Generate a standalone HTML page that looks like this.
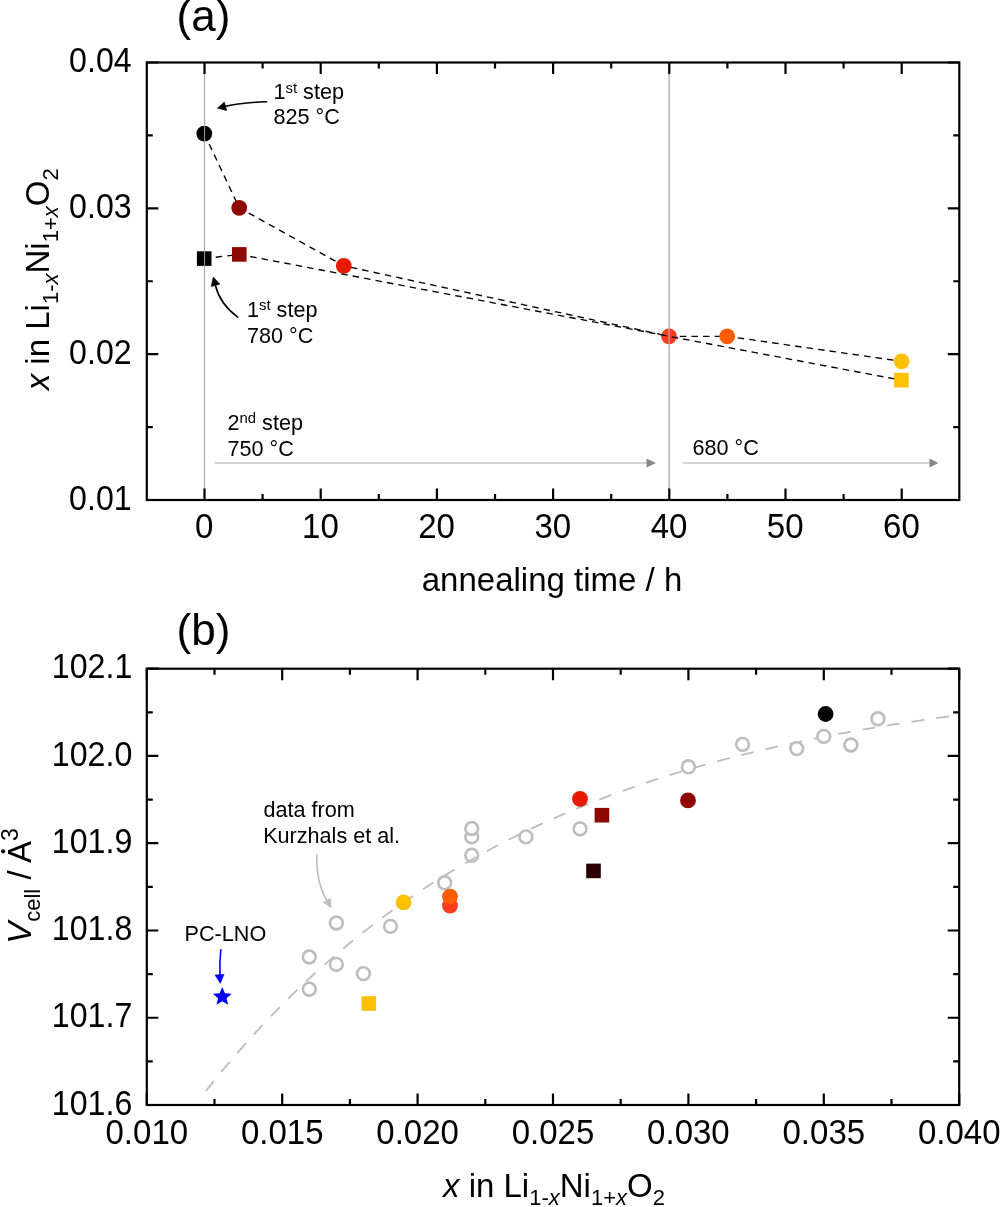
<!DOCTYPE html>
<html><head><meta charset="utf-8"><style>
html,body{margin:0;padding:0;background:#fff;overflow:hidden;}
svg{display:block;will-change:transform;}
text{font-family:"Liberation Sans", sans-serif;fill:#000;}
</style></head><body>
<svg width="1000" height="1207" viewBox="0 0 1000 1207">
<g id="a">
<polyline points="204.30,133.60 239.20,207.80 343.80,265.80 669.00,336.30 727.20,336.30 901.60,361.30" fill="none" stroke="#000" stroke-width="1.35" stroke-dasharray="6.5 5.1"/>
<circle cx="204.30" cy="133.60" r="7.9" fill="#000000"/>
<circle cx="239.20" cy="207.80" r="7.9" fill="#8c0800"/>
<circle cx="343.80" cy="265.80" r="7.9" fill="#e61a00"/>
<circle cx="669.00" cy="336.30" r="7.9" fill="#ff3c1e"/>
<circle cx="727.20" cy="336.30" r="7.9" fill="#ff5c00"/>
<circle cx="901.60" cy="361.30" r="7.9" fill="#ffc000"/>
<polyline points="204.20,258.60 239.30,254.40 669.00,336.30 901.40,380.20" fill="none" stroke="#000" stroke-width="1.35" stroke-dasharray="6.5 5.1"/>
<rect x="196.90" y="251.30" width="14.6" height="14.6" fill="#000000"/>
<rect x="232.00" y="247.10" width="14.6" height="14.6" fill="#8c0800"/>
<rect x="894.10" y="372.90" width="14.6" height="14.6" fill="#ffc000"/>
<line x1="204.6" y1="62.50" x2="204.6" y2="500.00" stroke="#a0a0a0" stroke-width="1.0"/>
<line x1="669.1" y1="62.50" x2="669.1" y2="500.00" stroke="#a8a8a8" stroke-width="1.25"/>
<path d="M215 463H647" stroke="#a8a8a8" stroke-width="1.15"/>
<path d="M656 463L646.5 458.5V467.5Z" fill="#888"/>
<path d="M682.5 463H930" stroke="#a8a8a8" stroke-width="1.15"/>
<path d="M938.5 463L929.5 458.5V467.5Z" fill="#888"/>
<path d="M266.6 101.8Q240 102.5 223.5 106.8" stroke="#000" stroke-width="1.6" fill="none" stroke-linecap="round"/>
<path d="M217.4 108.2L224.3 102.1L226.7 110.5Z" fill="#000" stroke="#000" stroke-width="0.6" stroke-linejoin="round"/>
<path d="M237.7 317.1Q220 304 215.6 286" stroke="#000" stroke-width="1.6" fill="none" stroke-linecap="round"/>
<path d="M213.3 277L211.2 286.5L219.9 284.2Z" fill="#000" stroke="#000" stroke-width="0.6" stroke-linejoin="round"/>
</g>
<path d="M204.50 500.00V488.50M204.50 62.50V74.00M320.70 500.00V488.50M320.70 62.50V74.00M436.90 500.00V488.50M436.90 62.50V74.00M553.10 500.00V488.50M553.10 62.50V74.00M669.30 500.00V488.50M669.30 62.50V74.00M785.50 500.00V488.50M785.50 62.50V74.00M901.70 500.00V488.50M901.70 62.50V74.00M262.60 500.00V494.00M262.60 62.50V68.50M378.80 500.00V494.00M378.80 62.50V68.50M495.00 500.00V494.00M495.00 62.50V68.50M611.20 500.00V494.00M611.20 62.50V68.50M727.40 500.00V494.00M727.40 62.50V68.50M843.60 500.00V494.00M843.60 62.50V68.50M146.80 500.00H158.30M959.30 500.00H947.80M146.80 354.17H158.30M959.30 354.17H947.80M146.80 208.33H158.30M959.30 208.33H947.80M146.80 62.50H158.30M959.30 62.50H947.80M146.80 427.08H152.80M959.30 427.08H953.30M146.80 281.25H152.80M959.30 281.25H953.30M146.80 135.42H152.80M959.30 135.42H953.30" stroke="#000" stroke-width="2.2" fill="none"/>
<rect x="146.80" y="62.50" width="812.50" height="437.50" stroke="#000" stroke-width="2.2" fill="none"/>
<text transform="translate(131.70 509.70) scale(0.975 1.05)" font-size="33" text-anchor="end" >0.01</text>
<text transform="translate(131.70 363.87) scale(0.975 1.05)" font-size="33" text-anchor="end" >0.02</text>
<text transform="translate(131.70 218.03) scale(0.975 1.05)" font-size="33" text-anchor="end" >0.03</text>
<text transform="translate(131.70 72.20) scale(0.975 1.05)" font-size="33" text-anchor="end" >0.04</text>
<text transform="translate(204.20 538.20) scale(1 1.06)" font-size="33" text-anchor="middle" >0</text>
<text transform="translate(320.40 538.20) scale(1 1.06)" font-size="33" text-anchor="middle" >10</text>
<text transform="translate(436.60 538.20) scale(1 1.06)" font-size="33" text-anchor="middle" >20</text>
<text transform="translate(552.80 538.20) scale(1 1.06)" font-size="33" text-anchor="middle" >30</text>
<text transform="translate(669.00 538.20) scale(1 1.06)" font-size="33" text-anchor="middle" >40</text>
<text transform="translate(785.20 538.20) scale(1 1.06)" font-size="33" text-anchor="middle" >50</text>
<text transform="translate(901.40 538.20) scale(1 1.06)" font-size="33" text-anchor="middle" >60</text>
<text x="552.00" y="591.00" font-size="33" text-anchor="middle" >annealing time / h</text>
<text x="203.50" y="31.40" font-size="44" text-anchor="middle" >(a)</text>
<text transform="translate(49.2 390.3) rotate(-90)" font-size="33"><tspan font-style="italic">x</tspan> in Li<tspan font-size="22" dy="8.6">1-<tspan font-style="italic">x</tspan></tspan><tspan dy="-8.6">Ni</tspan><tspan font-size="22" dy="8.6">1+<tspan font-style="italic">x</tspan></tspan><tspan dy="-8.6">O</tspan><tspan font-size="22" dy="8.6">2</tspan></text>
<text x="273.5" y="99.1" font-size="21.6">1<tspan font-size="14.9" dy="-6.6">st</tspan><tspan dy="6.6"> step</tspan></text>
<text x="273.5" y="124.3" font-size="21.6">825 °C</text>
<text x="247" y="316.8" font-size="21.6">1<tspan font-size="14.9" dy="-6.6">st</tspan><tspan dy="6.6"> step</tspan></text>
<text x="247" y="342.6" font-size="21.6">780 °C</text>
<text x="227.5" y="429.9" font-size="21.6">2<tspan font-size="14.9" dy="-6.6">nd</tspan><tspan dy="6.6"> step</tspan></text>
<text x="227.5" y="455.7" font-size="21.6">750 °C</text>
<text x="692.5" y="455.4" font-size="21.6">680 °C</text>
<g id="b">
<circle cx="471.76" cy="855.3" r="6.4" fill="none" stroke="#bdbdbd" stroke-width="2.6"/>
<path d="M203.99 1093.39 L210.34 1085.37 L216.69 1077.52 L223.03 1069.81 L229.38 1062.24 L235.72 1054.82 L242.07 1047.55 L248.42 1040.41 L254.76 1033.40 L261.11 1026.53 L267.46 1019.80 L273.80 1013.18 L280.15 1006.70 L286.49 1000.34 L292.84 994.10 L299.19 987.97 L305.53 981.97 L311.88 976.08 L318.23 970.30 L324.57 964.63 L330.92 959.07 L337.26 953.61 L343.61 948.26 L349.96 943.01 L356.30 937.86 L362.65 932.81 L369.00 927.85 L375.34 922.99 L381.69 918.22 L388.04 913.54 L394.38 908.95 L400.73 904.45 L407.07 900.03 L413.42 895.70 L419.77 891.45 L426.11 887.28 L432.46 883.19 L438.81 879.18 L445.15 875.24 L451.50 871.38 L457.84 867.59 L464.19 863.88 L470.54 860.23 L476.88 856.66 L483.23 853.15 L489.58 849.71 L495.92 846.33 L502.27 843.02 L508.61 839.78 L514.96 836.59 L521.31 833.46 L527.65 830.40 L534.00 827.39 L540.35 824.44 L546.69 821.55 L553.04 818.71 L559.38 815.92 L565.73 813.19 L572.08 810.51 L578.42 807.88 L584.77 805.30 L591.12 802.77 L597.46 800.29 L603.81 797.85 L610.15 795.46 L616.50 793.12 L622.85 790.82 L629.19 788.57 L635.54 786.36 L641.89 784.19 L648.23 782.06 L654.58 779.97 L660.92 777.92 L667.27 775.91 L673.62 773.94 L679.96 772.01 L686.31 770.11 L692.66 768.25 L699.00 766.42 L705.35 764.63 L711.70 762.88 L718.04 761.15 L724.39 759.46 L730.73 757.81 L737.08 756.18 L743.43 754.58 L749.77 753.02 L756.12 751.48 L762.47 749.98 L768.81 748.50 L775.16 747.05 L781.50 745.63 L787.85 744.23 L794.20 742.86 L800.54 741.52 L806.89 740.21 L813.24 738.91 L819.58 737.65 L825.93 736.40 L832.27 735.18 L838.62 733.99 L844.97 732.81 L851.31 731.66 L857.66 730.53 L864.01 729.43 L870.35 728.34 L876.70 727.27 L883.04 726.23 L889.39 725.20 L895.74 724.20 L902.08 723.21 L908.43 722.24 L914.78 721.29 L921.12 720.36 L927.47 719.44 L933.81 718.55 L940.16 717.67 L946.51 716.81 L952.85 715.96 L959.20 715.13" fill="none" stroke="#bdbdbd" stroke-width="1.8" stroke-dasharray="12.8 12" stroke-dashoffset="-3"/>
<circle cx="309.28" cy="957" r="6.4" fill="#fff" stroke="#bdbdbd" stroke-width="2.6"/>
<circle cx="309.28" cy="989.2" r="6.4" fill="#fff" stroke="#bdbdbd" stroke-width="2.6"/>
<circle cx="336.36" cy="923" r="6.4" fill="#fff" stroke="#bdbdbd" stroke-width="2.6"/>
<circle cx="336.36" cy="964.4" r="6.4" fill="#fff" stroke="#bdbdbd" stroke-width="2.6"/>
<circle cx="363.44" cy="973.6" r="6.4" fill="#fff" stroke="#bdbdbd" stroke-width="2.6"/>
<circle cx="390.52" cy="926.4" r="6.4" fill="#fff" stroke="#bdbdbd" stroke-width="2.6"/>
<circle cx="444.68" cy="882.8" r="6.4" fill="#fff" stroke="#bdbdbd" stroke-width="2.6"/>
<circle cx="471.76" cy="836.9" r="6.4" fill="#fff" stroke="#bdbdbd" stroke-width="2.6"/>
<circle cx="471.76" cy="828.5" r="6.4" fill="#fff" stroke="#bdbdbd" stroke-width="2.6"/>
<circle cx="525.92" cy="836.9" r="6.4" fill="#fff" stroke="#bdbdbd" stroke-width="2.6"/>
<circle cx="580.08" cy="828.9" r="6.4" fill="#fff" stroke="#bdbdbd" stroke-width="2.6"/>
<circle cx="688.40" cy="766.8" r="6.4" fill="#fff" stroke="#bdbdbd" stroke-width="2.6"/>
<circle cx="742.56" cy="744.4" r="6.4" fill="#fff" stroke="#bdbdbd" stroke-width="2.6"/>
<circle cx="796.72" cy="748.6" r="6.4" fill="#fff" stroke="#bdbdbd" stroke-width="2.6"/>
<circle cx="823.80" cy="736.4" r="6.4" fill="#fff" stroke="#bdbdbd" stroke-width="2.6"/>
<circle cx="850.88" cy="745" r="6.4" fill="#fff" stroke="#bdbdbd" stroke-width="2.6"/>
<circle cx="877.96" cy="718.8" r="6.4" fill="#fff" stroke="#bdbdbd" stroke-width="2.6"/>
<circle cx="825.6" cy="714" r="7.9" fill="#000"/>
<circle cx="688" cy="800.4" r="7.9" fill="#8c0800"/>
<circle cx="580" cy="798.8" r="7.9" fill="#e61a00"/>
<rect x="594.6" y="807.9000000000001" width="14.6" height="14.6" fill="#8c0800"/>
<rect x="586.2" y="863.6" width="14.6" height="14.6" fill="#2a0000"/>
<circle cx="403.6" cy="902.4" r="7.9" fill="#ffc000"/>
<circle cx="450" cy="905.6" r="7.9" fill="#ff3c1e"/>
<circle cx="450" cy="896.6" r="7.9" fill="#ff5c00"/>
<rect x="361.5" y="996.2" width="14.6" height="14.6" fill="#ffc000"/>
<polygon points="222.30,986.90 224.95,993.16 231.72,993.74 226.58,998.19 228.12,1004.81 222.30,1001.30 216.48,1004.81 218.02,998.19 212.88,993.74 219.65,993.16" fill="#0000ff"/>
<path d="M220.8 949.8Q219.4 962 220 975" stroke="#0000ff" stroke-width="1.6" fill="none" stroke-linecap="round"/>
<path d="M220.3 983.5L215 974.9L224.1 974.3Z" fill="#0000ff" stroke="#0000ff" stroke-width="0.5" stroke-linejoin="round"/>
<path d="M316.8 854.9Q316.5 884 327 900.5" stroke="#bdbdbd" stroke-width="1.6" fill="none" stroke-linecap="round"/>
<path d="M331 907.8L323.2 902.4L330.7 898.3Z" fill="#bdbdbd" stroke="#bdbdbd" stroke-width="0.5" stroke-linejoin="round"/>
</g>
<path d="M146.80 1105.00V1093.50M146.80 668.70V680.20M282.20 1105.00V1093.50M282.20 668.70V680.20M417.60 1105.00V1093.50M417.60 668.70V680.20M553.00 1105.00V1093.50M553.00 668.70V680.20M688.40 1105.00V1093.50M688.40 668.70V680.20M823.80 1105.00V1093.50M823.80 668.70V680.20M959.20 1105.00V1093.50M959.20 668.70V680.20M214.50 1105.00V1099.00M214.50 668.70V674.70M349.90 1105.00V1099.00M349.90 668.70V674.70M485.30 1105.00V1099.00M485.30 668.70V674.70M620.70 1105.00V1099.00M620.70 668.70V674.70M756.10 1105.00V1099.00M756.10 668.70V674.70M891.50 1105.00V1099.00M891.50 668.70V674.70M146.80 1105.00H158.30M959.20 1105.00H947.70M146.80 1017.74H158.30M959.20 1017.74H947.70M146.80 930.48H158.30M959.20 930.48H947.70M146.80 843.22H158.30M959.20 843.22H947.70M146.80 755.96H158.30M959.20 755.96H947.70M146.80 668.70H158.30M959.20 668.70H947.70M146.80 1061.37H152.80M959.20 1061.37H953.20M146.80 974.11H152.80M959.20 974.11H953.20M146.80 886.85H152.80M959.20 886.85H953.20M146.80 799.59H152.80M959.20 799.59H953.20M146.80 712.33H152.80M959.20 712.33H953.20" stroke="#000" stroke-width="2.2" fill="none"/>
<rect x="146.80" y="668.70" width="812.40" height="436.30" stroke="#000" stroke-width="2.2" fill="none"/>
<text transform="translate(132.30 1114.70) scale(0.975 1.05)" font-size="33" text-anchor="end" >101.6</text>
<text transform="translate(132.30 1027.44) scale(0.975 1.05)" font-size="33" text-anchor="end" >101.7</text>
<text transform="translate(132.30 940.18) scale(0.975 1.05)" font-size="33" text-anchor="end" >101.8</text>
<text transform="translate(132.30 852.92) scale(0.975 1.05)" font-size="33" text-anchor="end" >101.9</text>
<text transform="translate(132.30 765.66) scale(0.975 1.05)" font-size="33" text-anchor="end" >102.0</text>
<text transform="translate(132.30 678.40) scale(0.975 1.05)" font-size="33" text-anchor="end" >102.1</text>
<text transform="translate(146.80 1144.00) scale(1 1.05)" font-size="33" text-anchor="middle" >0.010</text>
<text transform="translate(282.20 1144.00) scale(1 1.05)" font-size="33" text-anchor="middle" >0.015</text>
<text transform="translate(417.60 1144.00) scale(1 1.05)" font-size="33" text-anchor="middle" >0.020</text>
<text transform="translate(553.00 1144.00) scale(1 1.05)" font-size="33" text-anchor="middle" >0.025</text>
<text transform="translate(688.40 1144.00) scale(1 1.05)" font-size="33" text-anchor="middle" >0.030</text>
<text transform="translate(823.80 1144.00) scale(1 1.05)" font-size="33" text-anchor="middle" >0.035</text>
<text transform="translate(959.20 1144.00) scale(1 1.05)" font-size="33" text-anchor="middle" >0.040</text>
<text x="203.50" y="644.80" font-size="44" text-anchor="middle" >(b)</text>
<text x="443" y="1197" font-size="33"><tspan font-style="italic">x</tspan> in Li<tspan font-size="22" dy="8.3">1-<tspan font-style="italic">x</tspan></tspan><tspan dy="-8.3">Ni</tspan><tspan font-size="22" dy="8.3">1+<tspan font-style="italic">x</tspan></tspan><tspan dy="-8.3">O</tspan><tspan font-size="22" dy="8.3">2</tspan></text>
<text transform="translate(30.8 943.8) rotate(-90)" font-size="33"><tspan font-style="italic">V</tspan><tspan font-size="22" dy="9.3">cell</tspan><tspan dy="-9.3"> / A</tspan><tspan font-size="23" dy="-13.3">3</tspan></text>
<circle cx="3.1" cy="851.3" r="2.1" fill="#000"/>
<text x="263.6" y="816.8" font-size="21.6">data from</text>
<text x="263.2" y="843.3" font-size="21.6">Kurzhals et al.</text>
<text x="184.6" y="941" font-size="21.6">PC-LNO</text>
</svg></body></html>
